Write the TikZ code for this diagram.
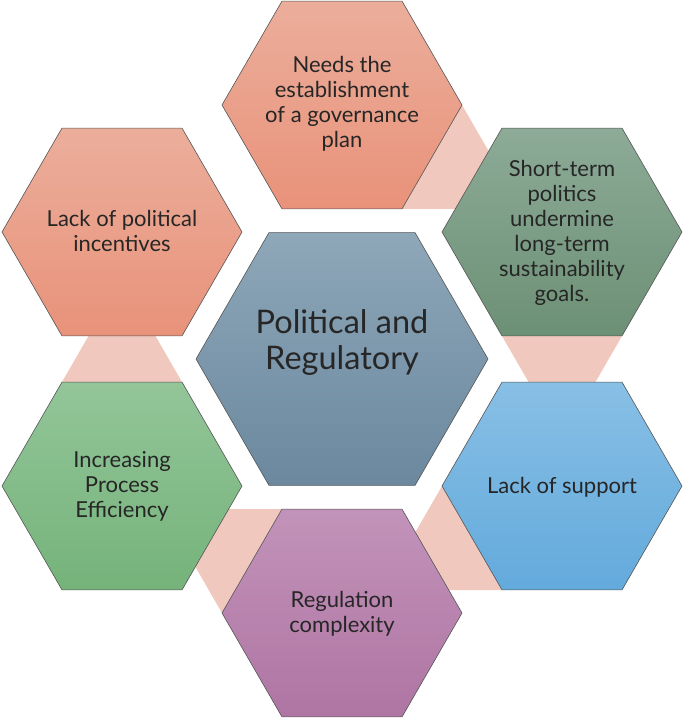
\documentclass[tikz,border=0pt]{standalone}
\usepackage{fontspec}
\setmainfont{Lato}
\definecolor{pinkc}{HTML}{F0C8BE}
\definecolor{txt}{HTML}{262626}
\definecolor{edgec}{HTML}{555555}
\definecolor{orT}{HTML}{EBAE9B}\definecolor{orB}{HTML}{E9927A}
\definecolor{dgT}{HTML}{8DAB97}\definecolor{dgB}{HTML}{6C9075}
\definecolor{blT}{HTML}{88BFE5}\definecolor{blB}{HTML}{63AADC}
\definecolor{puT}{HTML}{C293BA}\definecolor{puB}{HTML}{AF75A3}
\definecolor{grT}{HTML}{93C599}\definecolor{grB}{HTML}{75B37A}
\definecolor{ceT}{HTML}{8EA7B9}\definecolor{ceB}{HTML}{6B889E}
\begin{document}
\begin{tikzpicture}[x=1pt,y=-1pt,
  hexa/.style={draw=edgec, line width=0.6pt},
  conn/.style={fill=pinkc},
  lbl/.style={align=center, text=txt, inner sep=0pt, font=\fontsize{22}{25}\selectfont},
  biglbl/.style={align=center, text=txt, inner sep=0pt, font=\fontsize{32.5}{36}\selectfont},
]
\useasboundingbox (0,0) rectangle (685,719);
% centres
\coordinate (cC) at (342,359);
\coordinate (cN) at (342,105);
\coordinate (cS) at (562,232);
\coordinate (cL) at (562,486);
\coordinate (cR) at (342,613);
\coordinate (cI) at (122,486);
\coordinate (cP) at (122,232);
% connectors (behind)
\fill[conn] (462,105) -- (402,209) -- (522,209) -- cycle;
\fill[conn] (502,336) -- (622,336) -- (562,440) -- cycle;
\fill[conn] (442,486) -- (502,590) -- (382,590) -- cycle;
\fill[conn] (222,613) -- (282,509) -- (162,509) -- cycle;
\fill[conn] (62,382) -- (182,382) -- (122,278) -- cycle;
% outer hexagons
\path[hexa, top color=orT, bottom color=orB] (cN) +(0:120pt) -- +(60:120pt) -- +(120:120pt) -- +(180:120pt) -- +(240:120pt) -- +(300:120pt) -- cycle;
\path[hexa, top color=dgT, bottom color=dgB] (cS) +(0:120pt) -- +(60:120pt) -- +(120:120pt) -- +(180:120pt) -- +(240:120pt) -- +(300:120pt) -- cycle;
\path[hexa, top color=blT, bottom color=blB] (cL) +(0:120pt) -- +(60:120pt) -- +(120:120pt) -- +(180:120pt) -- +(240:120pt) -- +(300:120pt) -- cycle;
\path[hexa, top color=puT, bottom color=puB] (cR) +(0:120pt) -- +(60:120pt) -- +(120:120pt) -- +(180:120pt) -- +(240:120pt) -- +(300:120pt) -- cycle;
\path[hexa, top color=grT, bottom color=grB] (cI) +(0:120pt) -- +(60:120pt) -- +(120:120pt) -- +(180:120pt) -- +(240:120pt) -- +(300:120pt) -- cycle;
\path[hexa, top color=orT, bottom color=orB] (cP) +(0:120pt) -- +(60:120pt) -- +(120:120pt) -- +(180:120pt) -- +(240:120pt) -- +(300:120pt) -- cycle;
% centre hexagon
\path[hexa, top color=ceT, bottom color=ceB] (cC) +(0:146pt) -- +(60:146pt) -- +(120:146pt) -- +(180:146pt) -- +(240:146pt) -- +(300:146pt) -- cycle;
% labels
\node[biglbl] (tC) at (342,342) {Political and\\Regulatory};
\node[lbl] (tN) at (342,104) {Needs the\\establishment\\of a governance\\plan};
\node[lbl] (tS) at (562,233) {Short-term\\politics\\undermine\\long-term\\sustainability\\goals.};
\node[lbl] (tL) at (562,487) {Lack of support};
\node[lbl] (tR) at (342,614) {Regulation\\complexity};
\node[lbl] (tI) at (122,486) {Increasing\\Process\\Efficiency};
\node[lbl] (tP) at (122,231) {Lack of political\\incentives};
\end{tikzpicture}
\end{document}
